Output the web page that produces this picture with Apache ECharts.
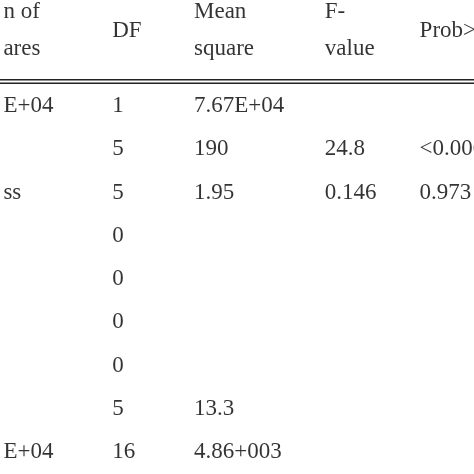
<!DOCTYPE html><html><head><meta charset="utf-8"><script src="https://cdn.jsdelivr.net/npm/echarts@6/dist/echarts.min.js"></script></head><body style="margin:0;background:#fff"><div id="c" style="width:474px;height:474px"></div><script>
const columns = ['Sum of squares','DF','Mean square','F-value','Prob>F'];
const headers = ['n of\nares','DF','Mean\nsquare','F-\nvalue','Prob>F'];
const rows = ['h','r1','r2','r3','r4','r5','r6','r7','r8','r9'];
const colSum = ['E+04','','ss','','','','','',"E+04"];
const colDF = ['1','5','5','0','0','0','0','5','16'];
const colMean = ['7.67E+04','190','1.95','','','','','13.3','4.86+003'];
const colF = ['','24.8','0.146','','','','','',''];
const colP = ['','<0.0001','0.973','','','','','',''];
const cols = [colSum,colDF,colMean,colF,colP];
const offsets = [-44,-30,-43,-7,-7];
const chart = echarts.init(document.getElementById('c'));
const series = cols.map((col,ci)=>{
  const data = [{value:[columns[ci],rows[0],headers[ci]],label:{offset:[offsets[ci],-32]}}];
  col.forEach((t,ri)=>{ if(t) data.push({value:[columns[ci],rows[ri+1],t]}); });
  return {type:'scatter',symbolSize:0,data,silent:true,
    label:{show:true,position:'inside',align:'left',offset:[offsets[ci],0],formatter:p=>p.value[2],
      fontFamily:'Liberation Serif',fontSize:23,color:'#000',lineHeight:37}};
});
chart.setOption({animation:false,
  grid:{left:0,right:0,top:41,bottom:-10,containLabel:false},
  xAxis:{type:'category',data:columns,show:false},
  yAxis:{type:'category',data:rows,inverse:true,show:false},
  series,
  graphic:[
    {type:'rect',shape:{x:0,y:79,width:474,height:1.5},style:{fill:'#222'}},
    {type:'rect',shape:{x:0,y:82.5,width:474,height:1.5},style:{fill:'#222'}}
  ]});
</script></body></html>
